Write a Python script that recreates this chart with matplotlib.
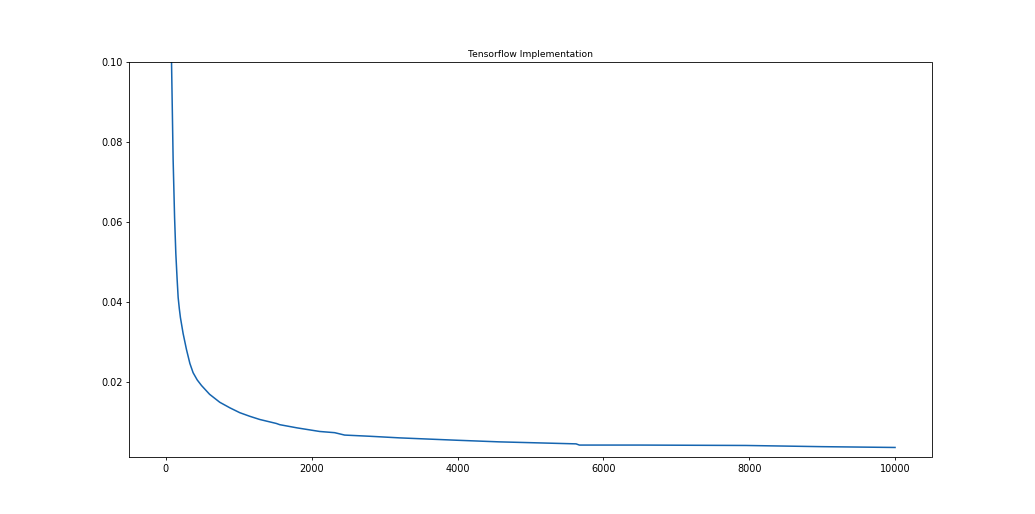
import numpy as np
import matplotlib
matplotlib.use("Agg")
import matplotlib.pyplot as plt

# loss curve (step, loss)
steps = [0, 40, 78, 100, 120, 137, 155, 169, 185, 200, 237, 283, 330, 374, 430,
         489, 600, 740, 880, 1014, 1151, 1288, 1516, 1562, 1800, 2110, 2315, 2452,
         2800, 3205, 3600, 4000, 4575, 5000, 5626, 5671, 6500, 7955, 9000, 10000]
loss = [0.30, 0.16, 0.100, 0.0755, 0.061, 0.052, 0.0455, 0.0410, 0.0382, 0.036,
        0.032, 0.028, 0.0245, 0.0222, 0.0204, 0.0190, 0.0168, 0.0148, 0.0134,
        0.0122, 0.0113, 0.0105, 0.0095, 0.0092, 0.0084, 0.0075, 0.0072, 0.0066,
        0.0063, 0.0059, 0.0056, 0.0053, 0.0049, 0.0047, 0.0044, 0.0041, 0.0041,
        0.0040, 0.0037, 0.0035]

plt.rcParams['font.size'] = 7
plt.rcParams['axes.linewidth'] = 0.6
plt.rcParams['xtick.major.size'] = 2.4
plt.rcParams['ytick.major.size'] = 2.4
plt.rcParams['xtick.major.width'] = 0.6
plt.rcParams['ytick.major.width'] = 0.6
plt.rcParams['xtick.major.pad'] = 2.5
plt.rcParams['ytick.major.pad'] = 2.5

fig = plt.figure(figsize=(10.35, 5.14), dpi=100)
plt.plot(steps, loss, color="#1565b0", linewidth=1.1)
plt.title("Tensorflow Implementation", fontsize=6.6, pad=3.5)
plt.ylim(0.001, 0.1)
plt.savefig("out.png")
